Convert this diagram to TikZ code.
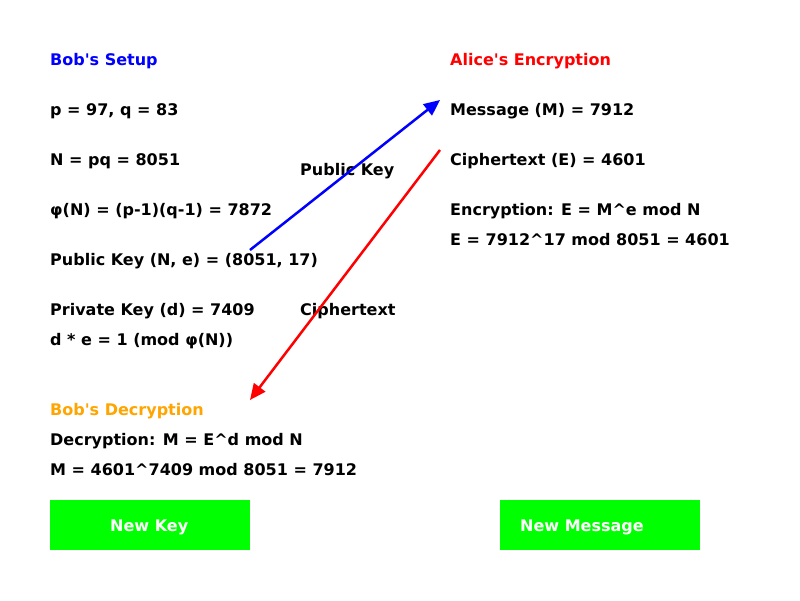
\documentclass[tikz,border=0pt]{standalone}
\usepackage{fontspec}
\setmainfont{DejaVu Sans}
\usetikzlibrary{arrows.meta}
\definecolor{orng}{HTML}{FFA500}
\begin{document}
\begin{tikzpicture}[x=1pt,y=-1pt,
 t/.style={anchor=base west,inner sep=0,font=\fontsize{16}{18}\selectfont\bfseries},
 btn/.style={fill=green,draw=none},
 ar/.style={line width=2.5pt,-{Triangle[length=16pt,width=14pt]}}]
\useasboundingbox (0,0) rectangle (800,600);
\fill[white] (0,0) rectangle (800,600);
\node[t,blue] (bs) at (50,65) {Bob\textquotesingle s Setup};
\node[t] (pq) at (50,115) {p = 97, q = 83};
\node[t] (n) at (50,165) {N = pq = 8051};
\node[t] (phi) at (50,215) {φ(N) = (p-1)(q-1) = 7872};
\node[t] (pk) at (50,265) {Public Key (N, e) = (8051, 17)};
\node[t] (sk) at (50,315) {Private Key (d) = 7409};
\node[t] (de) at (50,345) {d * e = 1 (mod φ(N))};
\node[t,orng] (bd) at (50,415) {Bob\textquotesingle s Decryption};
\node[t] (dec) at (50,445) {Decryption: M = E\textasciicircum d mod N};
\node[t] (m) at (50,475) {M = 4601\textasciicircum 7409 mod 8051 = 7912};
\node[t,red] (ae) at (450,65) {Alice\textquotesingle s Encryption};
\node[t] (msg) at (450,115) {Message (M) = 7912};
\node[t] (ct) at (450,165) {Ciphertext (E) = 4601};
\node[t] (enc) at (450,215) {Encryption: E = M\textasciicircum e mod N};
\node[t] (e2) at (450,245) {E = 7912\textasciicircum 17 mod 8051 = 4601};
\node[t] (lpk) at (300,175) {Public Key};
\node[t] (lct) at (300,315) {Ciphertext};
\coordinate (a1) at (250,250); \coordinate (a2) at (440,100);
\coordinate (b1) at (440,150); \coordinate (b2) at (250,400);
\draw[ar,blue] (a1) -- (a2);
\draw[ar,red] (b1) -- (b2);
\fill[btn] (50,500) rectangle (250,550);
\fill[btn] (500,500) rectangle (700,550);
\node[t,white] (nk) at (110,531) {New Key};
\node[t,white] (nm) at (520,531) {New Message};
\end{tikzpicture}
\end{document}
